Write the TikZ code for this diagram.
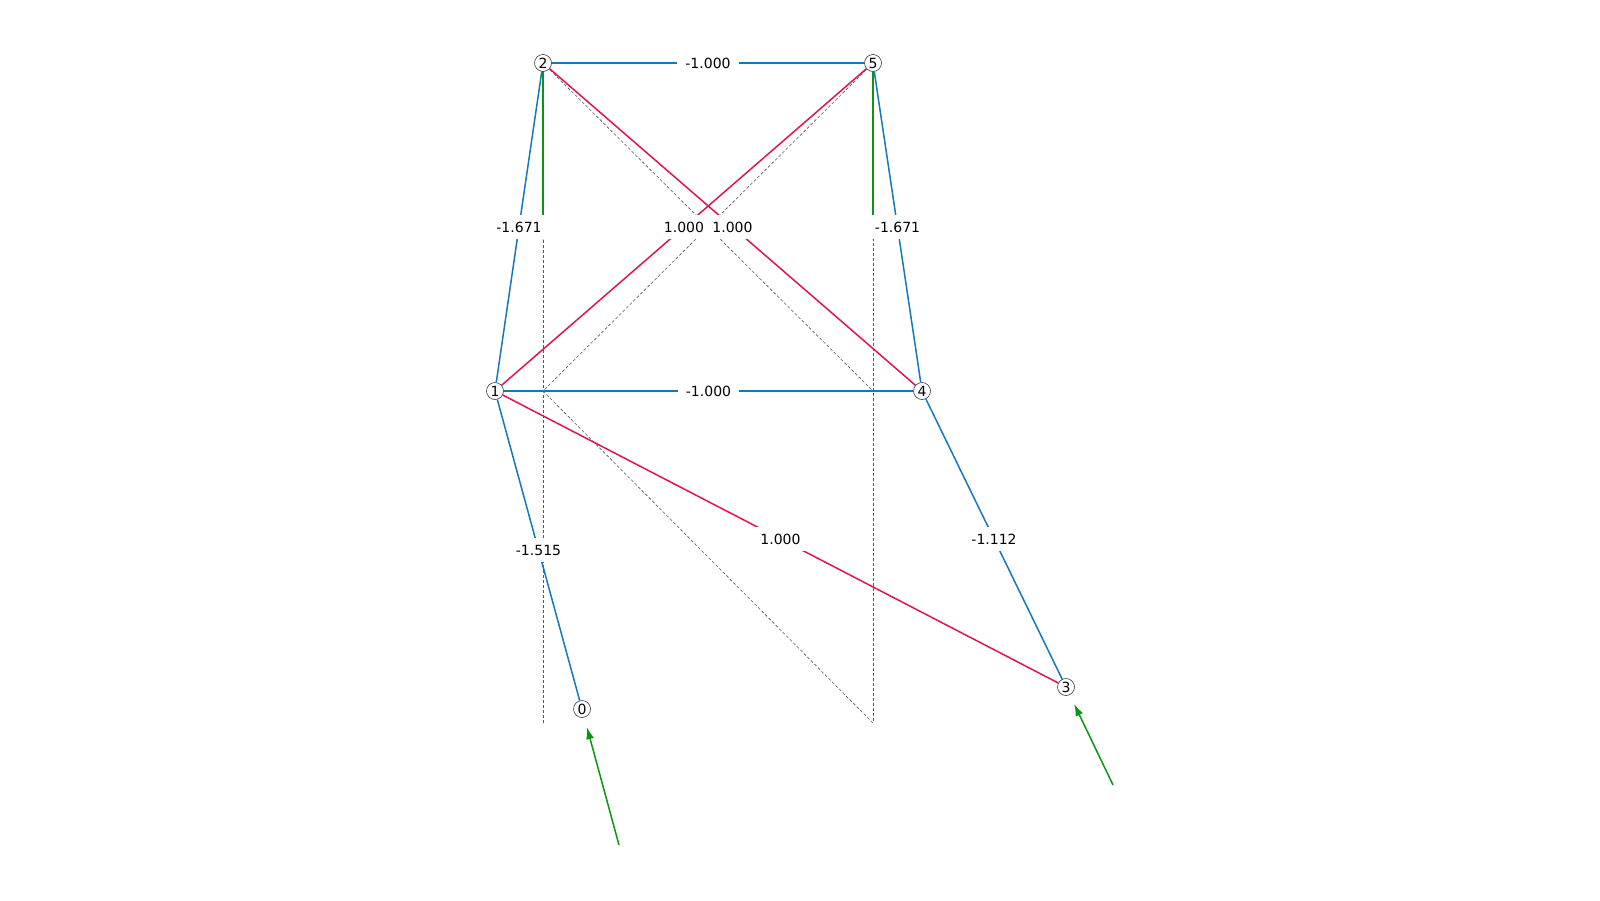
\documentclass[tikz,border=0pt]{standalone}
\usepackage{fontspec}
\setmainfont{DejaVu Sans}
\usetikzlibrary{arrows.meta}

\definecolor{comprblue}{RGB}{20,120,190}
\definecolor{tensred}{RGB}{225,20,80}
\definecolor{loadgreen}{RGB}{10,150,20}

\begin{document}
\begin{tikzpicture}[x=0.5pt,y=-0.5pt]
		\tikzstyle{joint} = [circle,draw=black!80,fill=white,line width=0.3pt,minimum size=8.5pt,inner sep=0pt,font=\fontsize{7}{7}\selectfont]
		\tikzstyle{undeformed} = [draw=black!65,line width=0.3pt,dash pattern=on 1.5pt off 1pt]
		\tikzstyle{compr} = [comprblue,line width=0.75pt]
		\tikzstyle{tens} = [tensred,line width=0.75pt]
		\tikzstyle{load} = [loadgreen,line width=0.75pt,-{Latex[length=6pt,width=4pt]}]
		\tikzstyle{force} = [fill=white,text=black,inner xsep=4pt,inner ysep=3.5pt,font=\fontsize{7}{7}\selectfont]
		
		\useasboundingbox (0,0) rectangle (1600,900);
		
		% undeformed truss
		\coordinate (o0) at (543,723);
		\coordinate (o1) at (543,391);
		\coordinate (o2) at (543,63);
		\coordinate (o3) at (873,723);
		\coordinate (o4) at (873,391);
		\coordinate (o5) at (873,63);
		\draw[undeformed] (o0) -- (o1) -- (o2) -- (o5) -- (o4) -- (o3);
		\draw[undeformed] (o1) -- (o4) (o2) -- (o4) (o5) -- (o1) (o1) -- (o3);
		
		% deformed joints
		\node[joint] (n0) at (582,709) {0};
		\node[joint] (n1) at (495,391) {1};
		\node[joint] (n2) at (543,63) {2};
		\node[joint] (n3) at (1066,687) {3};
		\node[joint] (n4) at (922,391) {4};
		\node[joint] (n5) at (873,63) {5};
		
		% loads and reactions
		\coordinate (l2) at (543,241);
		\coordinate (l5) at (873,241);
		\coordinate (r0) at (619,845);
		\coordinate (r3) at (1113,785);
		\path (n2) edge[load] (l2);
		\path (n5) edge[load] (l5);
		\path (r0) edge[load,shorten >=5pt] (n0);
		\path (r3) edge[load,shorten >=5pt] (n3);
		
		% members
		\path (n2) edge[compr] node[force] {-1.000} (n5);
		\path (n1) edge[compr] node[force] {-1.000} (n4);
		\path (n1) edge[compr] node[force] {-1.671} (n2);
		\path (n5) edge[compr] node[force] {-1.671} (n4);
		\path (n1) edge[compr] node[force] {-1.515} (n0);
		\path (n4) edge[compr] node[force] {-1.112} (n3);
		
		\path (n1) edge[tens] node[force] {1.000} (n5);
		\path (n2) edge[tens] node[force] {1.000} (n4);
		\path (n1) edge[tens] node[force] {1.000} (n3);
	\end{tikzpicture}
\end{document}
